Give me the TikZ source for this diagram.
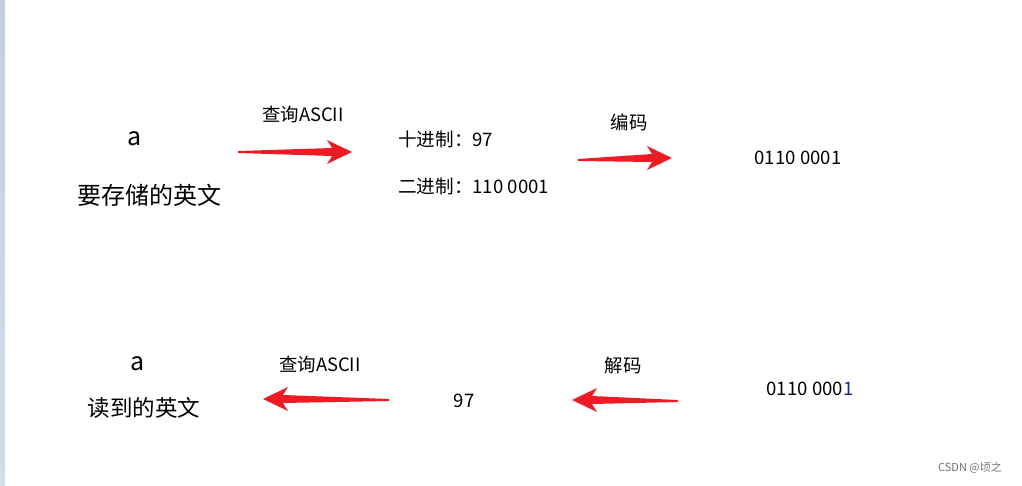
\documentclass[tikz,border=0pt]{standalone}
\usepackage{fontspec}
\setmainfont{Noto Sans CJK SC}
\usetikzlibrary{calc}
\definecolor{arrowred}{RGB}{237,28,36}
\definecolor{barA}{RGB}{196,206,224}
\definecolor{barB}{RGB}{212,220,235}
\definecolor{cursorblue}{RGB}{20,40,150}
\newcommand{\rarrow}[2]{\fill[arrowred] ($(#1)+(0,-1)$) -- ($(#2)+(-20,-4)$) -- ($(#2)+(-25,-12)$) -- (#2) -- ($(#2)+(-25,12)$) -- ($(#2)+(-20,4)$) -- ($(#1)+(0,1)$) -- cycle;}
\newcommand{\larrow}[2]{\fill[arrowred] ($(#1)+(0,-1)$) -- ($(#2)+(20,-4)$) -- ($(#2)+(25,-12)$) -- (#2) -- ($(#2)+(25,12)$) -- ($(#2)+(20,4)$) -- ($(#1)+(0,1)$) -- cycle;}
\begin{document}
\begin{tikzpicture}[x=1pt,y=-1pt,
  txt/.style={inner sep=0pt,text=black,font=\fontsize{18.6}{20}\selectfont},
  lbl/.style={inner sep=0pt,text=black,font=\fontsize{18.4}{20}\selectfont},
  big/.style={inner sep=0pt,text=black,font=\fontsize{24}{26}\selectfont},
  mid/.style={inner sep=0pt,text=black,font=\fontsize{22.5}{25}\selectfont},
  let/.style={inner sep=0pt,text=black,font=\fontsize{25}{26}\selectfont}]
\useasboundingbox (0,0) rectangle (1022,485);
\fill[white] (0,0) rectangle (1022,485);
\shade[top color=barA,bottom color=barB] (0,0) rectangle (5,485);
% top row
\node[let] (a1) at (135,139) {a};
\node[big] (s1) at (149,195) {要存储的英文};
\node[lbl] (q1) at (303,114) {查询ASCII};
\node[txt,anchor=west] (d1) at (398,139) {十进制：97};
\node[txt,anchor=west] (b1) at (398,186) {二进制：110 0001};
\node[lbl] (e1) at (629,122) {编码};
\node[txt] (r1) at (798,158) {0110 0001};
% bottom row
\node[let] (a2) at (138,364) {a};
\node[mid] (s2) at (144,408) {读到的英文};
\node[lbl] (q2) at (320,364) {查询ASCII};
\node[txt] (d2) at (464,401) {97};
\node[lbl] (e2) at (623,366) {解码};
\node[txt] (r2) at (810,389) {0110 000\textcolor{cursorblue}{1}};
% arrows
\coordinate (t1) at (238,152); \coordinate (h1) at (352,152);
\coordinate (t2) at (578,160); \coordinate (h2) at (672,158);
\coordinate (t3) at (389,400); \coordinate (h3) at (263,399);
\coordinate (t4) at (678,401); \coordinate (h4) at (572,400);
\rarrow{t1}{h1}
\rarrow{t2}{h2}
\larrow{t3}{h3}
\larrow{t4}{h4}
\node[inner sep=0pt,text=black!55,font=\fontsize{11}{12}\selectfont] (wm) at (970,468) {CSDN @顷之};
\end{tikzpicture}
\end{document}
